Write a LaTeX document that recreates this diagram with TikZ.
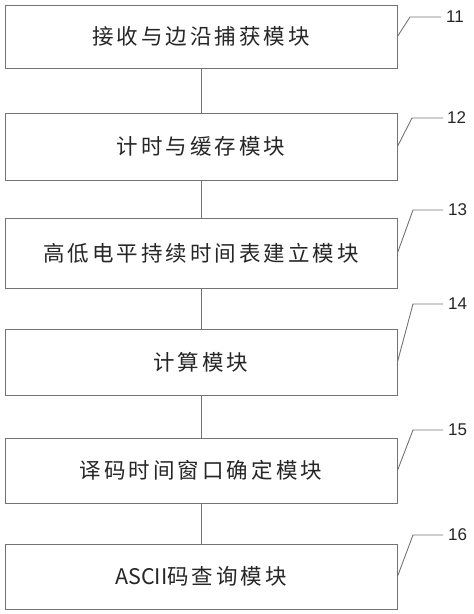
\documentclass[tikz,border=0pt]{standalone}
\usepackage{fontspec}
\newfontfamily\cjk[LetterSpace=14]{Noto Sans CJK SC}
\newfontfamily\cjklat{Noto Sans CJK SC}
\setmainfont{Liberation Sans}
\begin{document}
\begin{tikzpicture}[x=1bp,y=-1bp,
  box/.style={draw=black!55,line width=0.9bp,fill=white,minimum width=392bp,inner sep=0pt,font=\cjk\fontsize{21.5bp}{24bp}\selectfont,text=black!85},
  link/.style={draw=black!55,line width=0.9bp},
  num/.style={font=\fontsize{17bp}{18bp}\selectfont,text=black!85,anchor=west,inner sep=0pt}]
\useasboundingbox (0,0) rectangle (474,614);
\node[box,minimum height=63bp] (b1) at (201,36.5) {接收与边沿捕获模块};
\node[box,minimum height=67bp] (b2) at (201,146.5) {计时与缓存模块};
\node[box,minimum height=70bp] (b3) at (201,253) {高低电平持续时间表建立模块};
\node[box,minimum height=66bp] (b4) at (201,362) {计算模块};
\node[box,minimum height=65bp] (b5) at (201,470.5) {译码时间窗口确定模块};
\node[box,minimum height=65bp] (b6) at (201,576.5) {{\cjklat ASCII}码查询模块};
\foreach \a/\b in {b1/b2,b2/b3,b3/b4,b4/b5,b5/b6}
  \draw[link] (\a.south) -- (\b.north);
% leaders
\coordinate (k1) at (410,17);  \coordinate (e1) at (441,17);
\coordinate (k2) at (412,118); \coordinate (e2) at (443,118);
\coordinate (k3) at (413,210); \coordinate (e3) at (443,210);
\coordinate (k4) at (413,304); \coordinate (e4) at (443,304);
\coordinate (k5) at (413,430); \coordinate (e5) at (443,430);
\coordinate (k6) at (413,535); \coordinate (e6) at (443,535);
\draw[link] (b1.east) -- (k1) -- (e1);
\draw[link] (b2.east) -- (k2) -- (e2);
\draw[link] (b3.east) -- (k3) -- (e3);
\draw[link] (b4.east) -- (k4) -- (e4);
\draw[link] (b5.east) -- (k5) -- (e5);
\draw[link] (b6.east) -- (k6) -- (e6);
\node[num] (n1) at (446,17) {11};
\node[num] (n2) at (447,118) {12};
\node[num] (n3) at (448,210) {13};
\node[num] (n4) at (448,304) {14};
\node[num] (n5) at (448,430) {15};
\node[num] (n6) at (448,535) {16};
\end{tikzpicture}
\end{document}
